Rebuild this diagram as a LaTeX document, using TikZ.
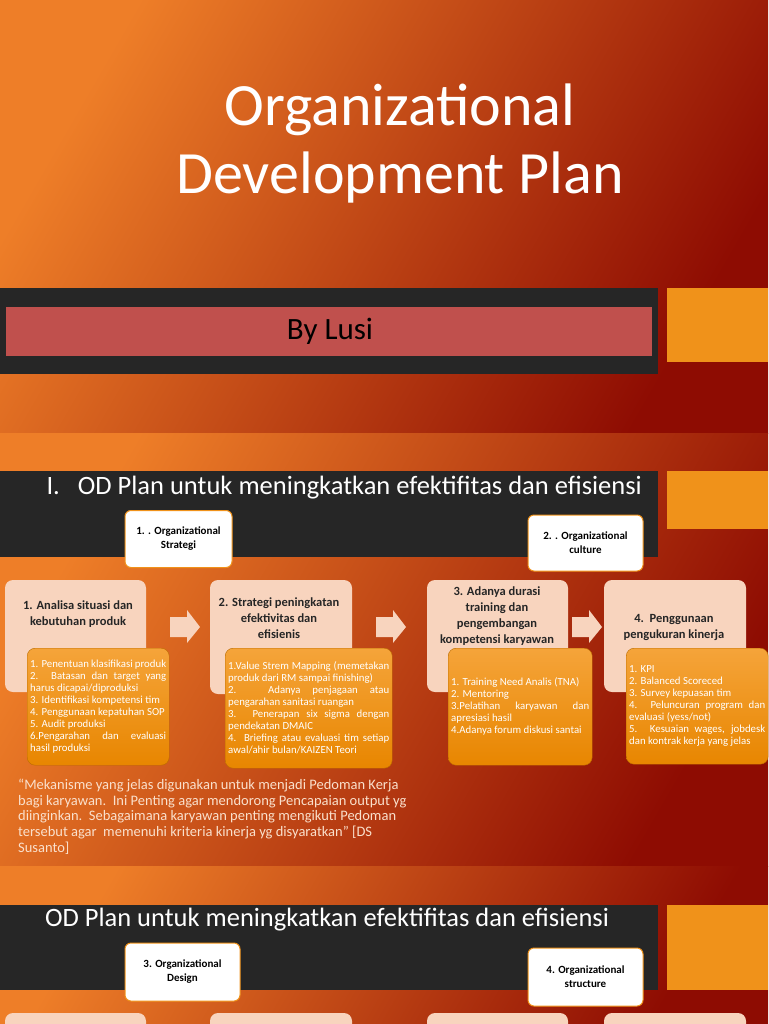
\documentclass[tikz,border=0pt]{standalone}
\usepackage{fontspec}
\setmainfont{Carlito}
\newcommand\nohyph{\hyphenpenalty=10000 \exhyphenpenalty=10000 \lefthyphenmin=60 }
\begin{document}
\begin{tikzpicture}[x=1pt,y=-1pt,
  bg/.style={top color=orangeA, bottom color=redA, shading angle=60},
  band/.style={fill=bandc},
  sq/.style={fill=sqc},
  wbox/.style={draw=sqc, line width=1pt, fill=white, rounded corners=6pt, align=center, font=\bfseries\fontsize{11}{14}\selectfont, inner sep=0pt},
  pbox/.style={fill=peach, rounded corners=8pt},
  ptext/.style={align=center, font=\bfseries\fontsize{12.5}{16}\selectfont, text=black!85},
  obox/.style={top color=ob1, bottom color=ob2, draw=ob2!80!black, line width=0.4pt, rounded corners=8pt, text=white, align=justify, font=\fontsize{10.8}{12}\selectfont, execute at begin node=\nohyph, inner xsep=3pt, inner ysep=2pt},
  arr/.style={fill=peach}
]
\definecolor{orangeA}{HTML}{EE7E28}
\definecolor{redA}{HTML}{8E0C02}
\definecolor{bandc}{HTML}{262626}
\definecolor{sqc}{HTML}{F0921A}
\definecolor{rose}{HTML}{C0504D}
\definecolor{peach}{HTML}{F8D4BE}
\definecolor{ob1}{HTML}{F5A43A}
\definecolor{ob2}{HTML}{E88600}
\definecolor{quote}{HTML}{FAE0CC}
\useasboundingbox (0,0) rectangle (768,1024);
% slide backgrounds
\shade[bg] (0,0) rectangle (768,433);
\shade[bg] (0,433) rectangle (768,866);
\shade[bg] (0,866) rectangle (768,1024);
% slide 1
\node[text=white, font=\fontsize{60}{68}\selectfont, align=center] (title) at (400,144) {Organizational\\Development Plan};
\fill[band] (0,288) rectangle (658,374);
\fill[sq] (667,288) rectangle (768,362);
\fill[rose] (6,307) rectangle (652,356);
\node[font=\fontsize{31}{34}\selectfont, text=black] (by) at (330,331) {By Lusi};
% slide 2
\fill[band] (0,471) rectangle (658,557);
\fill[sq] (667,471) rectangle (768,529);
\node[text=white, font=\fontsize{26.5}{28}\selectfont, anchor=west] (t2) at (43,488) {I.\hspace{18pt}OD Plan untuk meningkatkan efektifitas dan efisiensi};
\node[wbox, minimum width=107pt, minimum height=57pt] (w1) at (178.5,539) {1. . Organizational\\Strategi};
\node[wbox, minimum width=115pt, minimum height=56pt] (w2) at (585.5,543) {2. . Organizational\\culture};
% peach boxes
\fill[pbox] (5,580) rectangle (146,692);
\fill[pbox] (210,580) rectangle (352,694);
\fill[pbox] (427,580) rectangle (568,692);
\fill[pbox] (604,580) rectangle (746,692);
\node[ptext] (h1) at (78,614) {1. Analisa situasi dan\\kebutuhan produk};
\node[ptext] (h2) at (279,618) {2. Strategi peningkatan\\efektivitas dan\\efisienis};
\node[ptext] (h3) at (497,616) {3. Adanya durasi\\training dan\\pengembangan\\kompetensi karyawan};
\node[ptext] (h4) at (674,627) {4.\ \ Penggunaan\\pengukuran kinerja};
% arrows
\foreach \a in {170,376,572}{
  \fill[arr] (\a,617) -- (\a+17,617) -- (\a+17,610) -- (\a+30,627) -- (\a+17,643) -- (\a+17,637) -- (\a,637) -- cycle;
}
% orange boxes
\node[obox, anchor=north west, minimum width=142pt, minimum height=117pt, text width=136pt] (o1) at (27,648) {%
1. Penentuan klasifikasi produk\\
2. Batasan dan target yang harus dicapai/diproduksi\\
3. Identifikasi kompetensi tim\\
4. Penggunaan kepatuhan SOP\\
5. Audit produksi\\
6.Pengarahan dan evaluasi hasil produksi};
\node[obox, anchor=north west, minimum width=167pt, minimum height=120pt, text width=161pt] (o2) at (225,648) {%
1.Value Strem Mapping (memetakan produk dari RM sampai finishing)\\
2. Adanya penjagaan atau pengarahan sanitasi ruangan\\
3. Penerapan six sigma dengan pendekatan DMAIC\\
4. Briefing atau evaluasi tim setiap awal/ahir bulan/KAIZEN Teori};
\node[obox, anchor=north west, minimum width=144pt, minimum height=117pt, text width=138pt] (o3) at (448,648) {%
1. Training Need Analis (TNA)\\
2. Mentoring\\
3.Pelatihan karyawan dan apresiasi hasil\\
4.Adanya forum diskusi santai};
\node[obox, anchor=north west, minimum width=142pt, minimum height=116pt, text width=136pt] (o4) at (626,648) {%
1. KPI\\
2. Balanced Scoreced\\
3. Survey kepuasan tim\\
4. Peluncuran program dan evaluasi (yess/not)\\
5. Kesuaian wages, jobdesk dan kontrak kerja yang jelas};
\node[anchor=north west, text=quote, font=\fontsize{14.5}{15.6}\selectfont, align=left, inner sep=0pt] (q) at (18,779) {%
“Mekanisme yang jelas digunakan untuk menjadi Pedoman Kerja\\
bagi karyawan.\ \ Ini Penting agar mendorong Pencapaian output yg\\
diinginkan.\ \ Sebagaimana karyawan penting mengikuti Pedoman\\
tersebut agar\ \ memenuhi kriteria kinerja yg disyaratkan” [DS\\
Susanto]};
% slide 3
\fill[band] (0,905) rectangle (658,990);
\fill[sq] (667,905) rectangle (768,990);
\node[text=white, font=\fontsize{26.5}{28}\selectfont] (t3) at (327,920) {OD Plan untuk meningkatkan efektifitas dan efisiensi};
\node[wbox, minimum width=115pt, minimum height=58pt] (w3) at (182.5,972) {3. Organizational\\Design};
\node[wbox, minimum width=115pt, minimum height=58pt] (w4) at (585.5,977) {4. Organizational\\structure};
\fill[pbox] (5,1013) rectangle (146,1040);
\fill[pbox] (210,1013) rectangle (352,1040);
\fill[pbox] (427,1013) rectangle (568,1040);
\fill[pbox] (604,1013) rectangle (746,1040);
\end{tikzpicture}
\end{document}
